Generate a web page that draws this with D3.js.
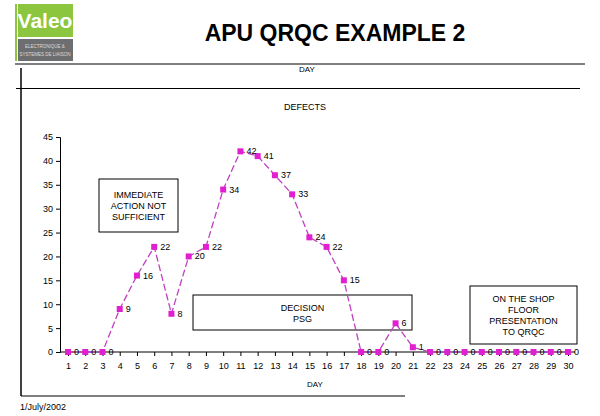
<!DOCTYPE html>
<html><head><meta charset="utf-8">
<script src="https://cdn.jsdelivr.net/npm/d3@7"></script>
<style>body{margin:0;background:#fff}svg{font-family:"Liberation Sans",Arial,sans-serif}</style>
</head><body><svg id="c" width="600" height="416"></svg>
<script>
const days = d3.range(1,31);
const defects = [0,0,0,9,16,22,8,20,22,34,42,41,37,33,24,22,15,0,0,6,1,0,0,0,0,0,0,0,0,0];
const yTicks = [0,5,10,15,20,25,30,35,40,45];

const svg = d3.select("#c");
const x = d3.scaleLinear().domain([1,30]).range([68,568]);
const y = d3.scaleLinear().domain([0,45]).range([352,137]);

svg.append("rect").attr("x",15).attr("y",4).attr("width",2).attr("height",57).attr("fill","#8cc63f");
svg.append("rect").attr("x",18).attr("y",4).attr("width",55).attr("height",33).attr("fill","#8cc63f");
svg.append("text").attr("x",45).attr("y",28).attr("text-anchor","middle").attr("fill","#fff").attr("font-weight","bold").attr("font-size",21).attr("font-family","Liberation Sans Narrow, Arial").text("Valeo");
svg.append("rect").attr("x",18).attr("y",39).attr("width",55).attr("height",22).attr("fill","#6d6e70");
svg.append("text").attr("x",45).attr("y",48).attr("text-anchor","middle").attr("fill","#ddd").attr("font-size",4.5).text("ELECTRONIQUE &");
svg.append("text").attr("x",45).attr("y",56).attr("text-anchor","middle").attr("fill","#ddd").attr("font-size",4.5).text("SYSTEMES DE LIAISON");
svg.append("text").attr("x",335).attr("y",41).attr("text-anchor","middle").attr("font-weight","bold").attr("font-size",23).text("APU QRQC EXAMPLE 2");

svg.append("line").attr("x1",15).attr("x2",585).attr("y1",64).attr("y2",64).attr("stroke","#000");
svg.append("line").attr("x1",16).attr("x2",580).attr("y1",88.5).attr("y2",88.5).attr("stroke","#000").attr("stroke-width",1.2);
svg.append("line").attr("x1",21).attr("x2",21).attr("y1",68).attr("y2",396).attr("stroke","#000").attr("stroke-width",1.5);
svg.append("line").attr("x1",21).attr("x2",405).attr("y1",396).attr("y2",396).attr("stroke","#000");
svg.append("text").attr("x",307).attr("y",72).attr("text-anchor","middle").attr("font-size",8).text("DAY");
svg.append("text").attr("x",305).attr("y",110).attr("text-anchor","middle").attr("font-size",9).text("DEFECTS");

const ya = svg.append("g").attr("transform","translate(60,0)").call(d3.axisLeft(y).tickValues(yTicks).tickSize(4));
const xa = svg.append("g").attr("transform","translate(0,352)").call(d3.axisBottom(x).tickValues(days).tickSize(4).tickSizeOuter(0));
xa.select(".domain").attr("d","M60,0H575");
[ya,xa].forEach(a=>a.selectAll("text").attr("font-size",9).attr("font-family","Liberation Sans, Arial"));
xa.selectAll("text").attr("dy","1.1em");
svg.append("text").attr("x",315).attr("y",387).attr("text-anchor","middle").attr("font-size",8).text("DAY");
svg.append("text").attr("x",20).attr("y",410).attr("font-size",9).text("1/July/2002");

function box(x0,y0,w,h,lines){
  svg.append("rect").attr("x",x0).attr("y",y0).attr("width",w).attr("height",h).attr("fill","#fff").attr("stroke","#000");
  const lh=11, cy=y0+h/2-(lines.length-1)*lh/2+3.5;
  lines.forEach((t,i)=>svg.append("text").attr("x",x0+w/2).attr("y",cy+i*lh).attr("text-anchor","middle").attr("font-size",9).text(t));
}
box(99,179,79,53,["IMMEDIATE","ACTION NOT","SUFFICIENT"]);
box(193,295,219,35,["DECISION","PSG"]);
box(470,286,107,58,["ON THE SHOP","FLOOR","PRESENTATION","TO QRQC"]);

svg.append("path").datum(defects).attr("fill","none").attr("stroke","#c040c0").attr("stroke-width",1.3).attr("stroke-dasharray","7,3")
  .attr("d",d3.line().x((d,i)=>x(days[i])).y(d=>y(d)));
svg.selectAll("rect.pt").data(defects).join("rect").attr("class","pt")
  .attr("x",(d,i)=>x(days[i])-3).attr("y",d=>y(d)-3).attr("width",6).attr("height",6).attr("fill","#e020d0");
svg.selectAll("text.lb").data(defects).join("text").attr("class","lb")
  .attr("x",(d,i)=>x(days[i])+6).attr("y",d=>y(d)+3).attr("font-size",9).text(d=>d);
</script></body></html>
